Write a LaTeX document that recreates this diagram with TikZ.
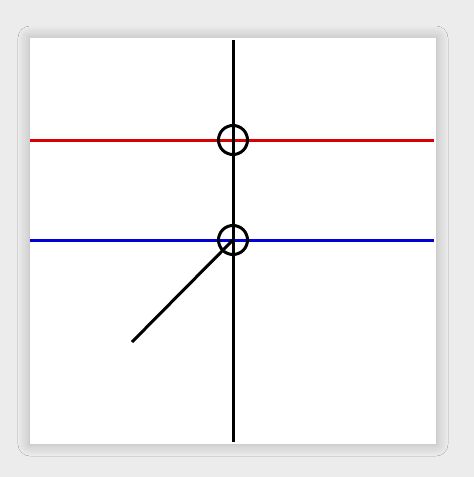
\documentclass[tikz,border=0pt]{standalone}
\usetikzlibrary{shadows.blur}
\begin{document}
\begin{tikzpicture}[x=1pt,y=-1pt,
  axisline/.style={line width=3pt, line cap=butt},
  ring/.style={circle, draw, line width=3pt, minimum size=29pt, inner sep=0pt}]

% background and panel
\fill[gray!15] (0,0) rectangle (474,477);
\fill[white, blur shadow={shadow blur steps=12, shadow xshift=0pt, shadow yshift=0pt, shadow blur radius=12pt, shadow opacity=25}] (30,38) rectangle (436,444);

\coordinate (top) at (233,40);
\coordinate (bottom) at (233,442);
\coordinate (redL) at (30,140);
\coordinate (redR) at (434,140);
\coordinate (blueL) at (30,240);
\coordinate (blueR) at (434,240);
\coordinate (tail) at (132,342);

 \draw[axisline, red!85!black] (redL)--(redR);
 \draw[axisline, blue!85!black] (blueL)--(blueR);
 \draw[axisline, black] (top)--(bottom);
 \draw[axisline, black] (233,240)--(tail);

\node[ring] (upper) at (233,140) {};
\node[ring] (lower) at (233,240) {};
\end{tikzpicture}
\end{document}
